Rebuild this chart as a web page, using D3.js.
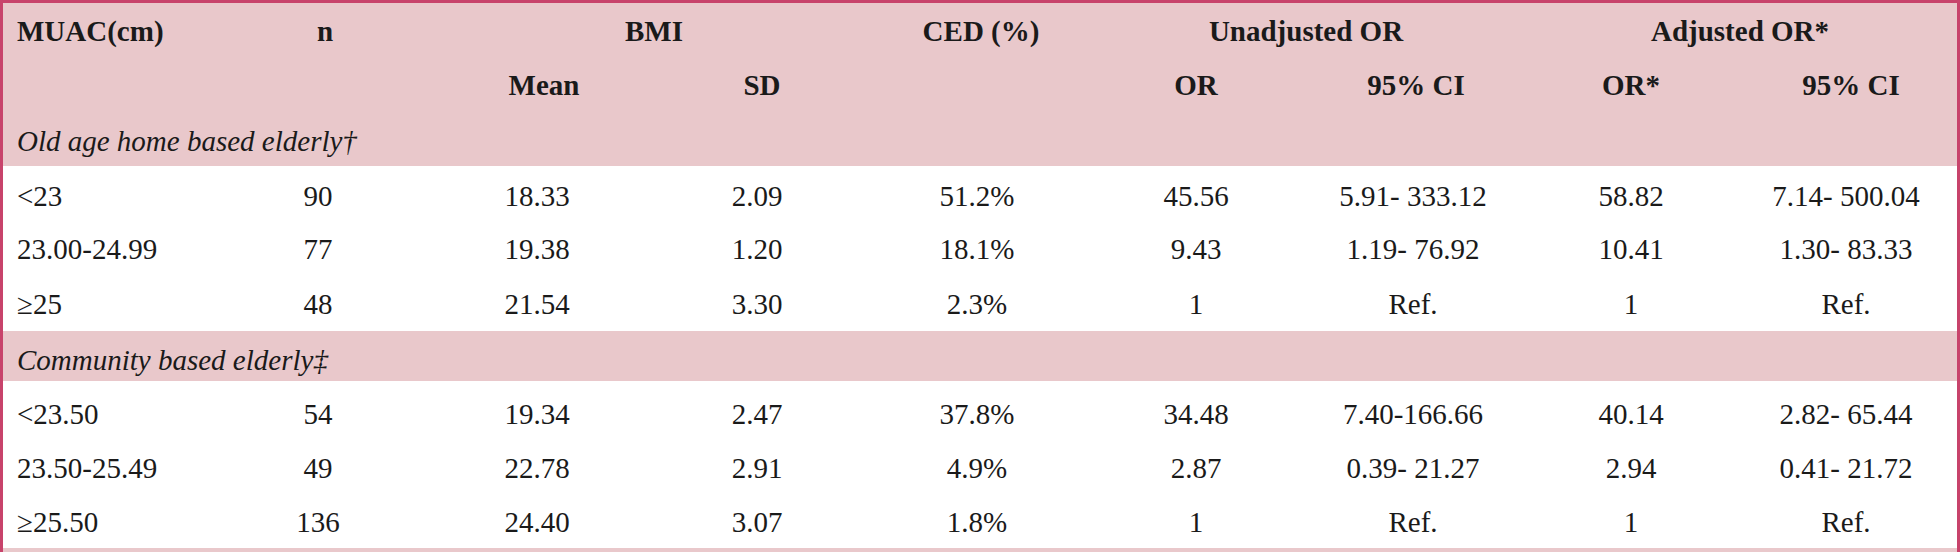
<!DOCTYPE html>
<html><head><meta charset="utf-8">
<script src="https://cdn.jsdelivr.net/npm/d3@7"></script>
<style>body{margin:0;background:#fff}svg{display:block}</style>
</head><body><div id="chart"></div>
<script>
// table content
const groups = ["Old age home based elderly†", "Community based elderly‡"];
const muac = [["<23", "23.00-24.99", "≥25"], ["<23.50", "23.50-25.49", "≥25.50"]];
const nVals = [[90, 77, 48], [54, 49, 136]];
const bmiMean = [["18.33", "19.38", "21.54"], ["19.34", "22.78", "24.40"]];
const bmiSD = [["2.09", "1.20", "3.30"], ["2.47", "2.91", "3.07"]];
const ced = [["51.2%", "18.1%", "2.3%"], ["37.8%", "4.9%", "1.8%"]];
const orU = [["45.56", "9.43", "1"], ["34.48", "2.87", "1"]];
const ciU = [["5.91- 333.12", "1.19- 76.92", "Ref."], ["7.40-166.66", "0.39- 21.27", "Ref."]];
const orA = [["58.82", "10.41", "1"], ["40.14", "2.94", "1"]];
const ciA = [["7.14- 500.04", "1.30- 83.33", "Ref."], ["2.82- 65.44", "0.41- 21.72", "Ref."]];

const W = 1960, H = 552;
const pink = "#e9c8cb", border = "#c8436b", font = "'Liberation Serif','Times New Roman',serif";

const svg = d3.select("#chart").append("svg").attr("width", W).attr("height", H)
    .style("font-family", font).style("font-size", "29px").attr("fill", "#1a1a1a");

// column centers
const cols = [null, 318, 537, 757, 977, 1196, 1413, 1631, 1846];

// row layout: header (3 sub rows), 3 data, band, 3 data
const y = d3.scaleLinear().domain([0, 1]).range([0, 1]);
svg.append("rect").attr("x", 0).attr("y", 0).attr("width", W).attr("height", 166).attr("fill", pink);
svg.append("rect").attr("x", 0).attr("y", 331).attr("width", W).attr("height", 50).attr("fill", pink);
svg.append("rect").attr("x", 0).attr("y", H - 4).attr("width", W).attr("height", 4).attr("fill", pink);
// frame
svg.append("path").attr("d", `M1.5,${H} V1.5 H${W - 1.5} V${H}`)
    .attr("fill", "none").attr("stroke", border).attr("stroke-width", 3);

const bold = (x, yy, t, anchor = "middle") => svg.append("text").attr("x", x).attr("y", yy)
    .attr("text-anchor", anchor).attr("font-weight", "bold").attr("dy", "0.35em").text(t);

bold(17, 31, "MUAC(cm)", "start");
bold(cols[1] + 7, 31, "n");
bold(654, 31, "BMI");
bold(cols[4] + 4, 31, "CED (%)");
bold(1306, 31, "Unadjusted OR");
bold(1740, 31, "Adjusted OR*");
bold(cols[2] + 7, 85, "Mean");
bold(cols[3] + 5, 85, "SD");
bold(cols[5], 85, "OR");
bold(cols[6] + 3, 85, "95% CI");
bold(cols[7], 85, "OR*");
bold(cols[8] + 5, 85, "95% CI");

const groupY = [141, 360];
const rowY = [[196, 249, 304], [414, 468, 522]];

groups.forEach((g, gi) => {
    svg.append("text").attr("x", 17).attr("y", groupY[gi]).attr("dy", "0.35em")
        .attr("font-style", "italic").text(g);
    const cells = [muac, nVals, bmiMean, bmiSD, ced, orU, ciU, orA, ciA];
    rowY[gi].forEach((ry, ri) => {
        cells.forEach((arr, ci) => {
            svg.append("text")
                .attr("x", ci === 0 ? 17 : cols[ci])
                .attr("y", ry).attr("dy", "0.35em")
                .attr("text-anchor", ci === 0 ? "start" : "middle")
                .text(arr[gi][ri]);
        });
    });
});
</script>
</body></html>
